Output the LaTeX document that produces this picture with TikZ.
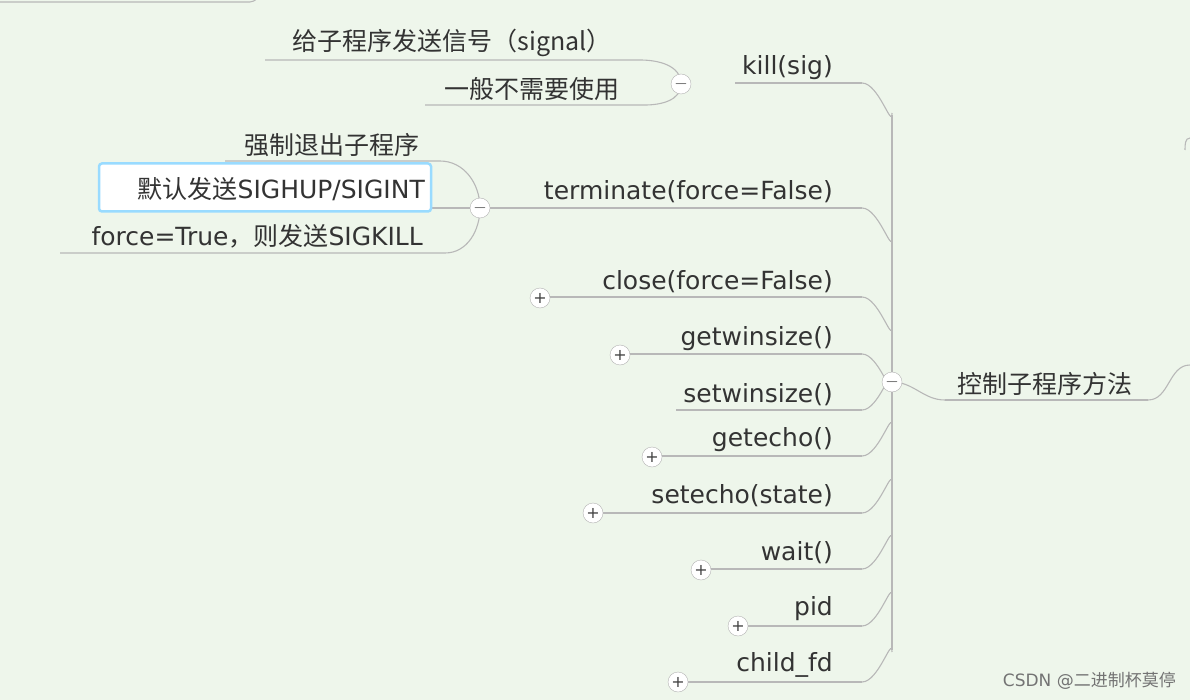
\documentclass[tikz,border=0pt]{standalone}
\usepackage{fontspec}
\setmainfont{DejaVu Sans}
\newfontfamily\cjk{Noto Sans CJK SC}
\definecolor{bg}{HTML}{EEF6EB}
\begin{document}
\begin{tikzpicture}[x=1pt,y=-1pt,
  ln/.style={draw=black!28,line width=1.1pt},
  lbl/.style={text=black!80,font=\fontsize{25}{28}\selectfont,inner sep=0pt},
  tog/.style={circle,draw=black!30,fill=white,minimum size=20pt,inner sep=0pt,font=\fontsize{16}{16}\selectfont,text=black!75}]
\fill[bg] (0,0) rectangle (1190,700);
\useasboundingbox (0,0) rectangle (1190,700);
% top-left partial
\draw[ln] (0,2) -- (250,2) to[out=0,in=90] (270,-10);
% right side partial
\draw[ln] (1190,138) to[out=180,in=90] (1185,150);
\draw[ln] (1148,400) to[out=0,in=180] (1190,365);
% root
\node[lbl,anchor=south] (root) at (1045,396) {\cjk 控制子程序方法};
\draw[ln] (945,400) -- (1148,400);
\draw[ln] (892,382) to[out=0,in=180] (945,400);
% trunk
\draw[ln] (892,115) -- (892,650);
% children
\foreach \y/\x in {83/735,208/480,297/540,354/620,410/676,456/652,513/593,569/701,626/738,682/678}{
  \draw[ln] (\x,\y) -- (862,\y);
}
\foreach \y in {83,208,297,354}{ \draw[ln] (862,\y) to[out=0,in=-90] (892,\y+30); }
\foreach \y in {410,456,513,569,626,682}{ \draw[ln] (862,\y) to[out=0,in=90] (892,\y-30); }
\node[lbl,anchor=east] (kill) at (833,68) {kill(sig)};
\node[lbl,anchor=east] (term) at (833,192) {terminate(force=False)};
\node[lbl,anchor=east] (close) at (833,282) {close(force=False)};
\node[lbl,anchor=east] (gws) at (833,339) {getwinsize()};
\node[lbl,anchor=east] (sws) at (833,395) {setwinsize()};
\node[lbl,anchor=east] (ge) at (833,440) {getecho()};
\node[lbl,anchor=east] (se) at (833,496) {setecho(state)};
\node[lbl,anchor=east] (wait) at (833,553) {wait()};
\node[lbl,anchor=east] (pid) at (833,609) {pid};
\node[lbl,anchor=east] (cfd) at (833,665) {child\_fd};
% kill subtree
\draw[ln] (265,60) -- (640,60) to[out=0,in=90] (681,84);
\draw[ln] (425,105) -- (645,105) to[out=0,in=-90] (681,84);
\node[lbl,anchor=east] (k1) at (612,43) {\cjk 给子程序发送信号（signal）};
\node[lbl,anchor=east] (k2) at (620,89) {\cjk 一般不需要使用};
% terminate subtree
\draw[ln] (225,161) -- (440,161) to[out=0,in=90] (480,208);
\draw[ln] (432,208) -- (480,208);
\draw[ln] (60,253) -- (445,253) to[out=0,in=-90] (480,208);
\node[lbl,anchor=east] (t1) at (420,145) {\cjk 强制退出子程序};
\node[draw=blue!35!cyan!40,line width=2.5pt,fill=white,rounded corners=3pt,minimum width=332pt,minimum height=48pt,inner sep=0pt] (box) at (265,187.5) {};
\node[lbl,anchor=east] (t2) at (425,189) {{\cjk 默认发送}SIGHUP/SIGINT};
\node[lbl,anchor=east] (t3) at (423,236) {force=True{\cjk ，则发送}SIGKILL};
% toggles
\node[tog] (m1) at (681,84) {$-$};
\node[tog] (m2) at (480,208) {$-$};
\node[tog] (m3) at (892,382) {$-$};
\foreach \n/\x/\y in {p1/540/298,p2/620/355,p3/652/457,p4/593/513,p5/701/570,p6/738/626,p7/678/682}{
  \node[tog] (\n) at (\x,\y) {+};
}
\node[text=black!55,font=\fontsize{17}{20}\selectfont,anchor=east,inner sep=0pt] (wm) at (1176,681) {CSDN @{\cjk 二进制杯莫停}};
\end{tikzpicture}
\end{document}
